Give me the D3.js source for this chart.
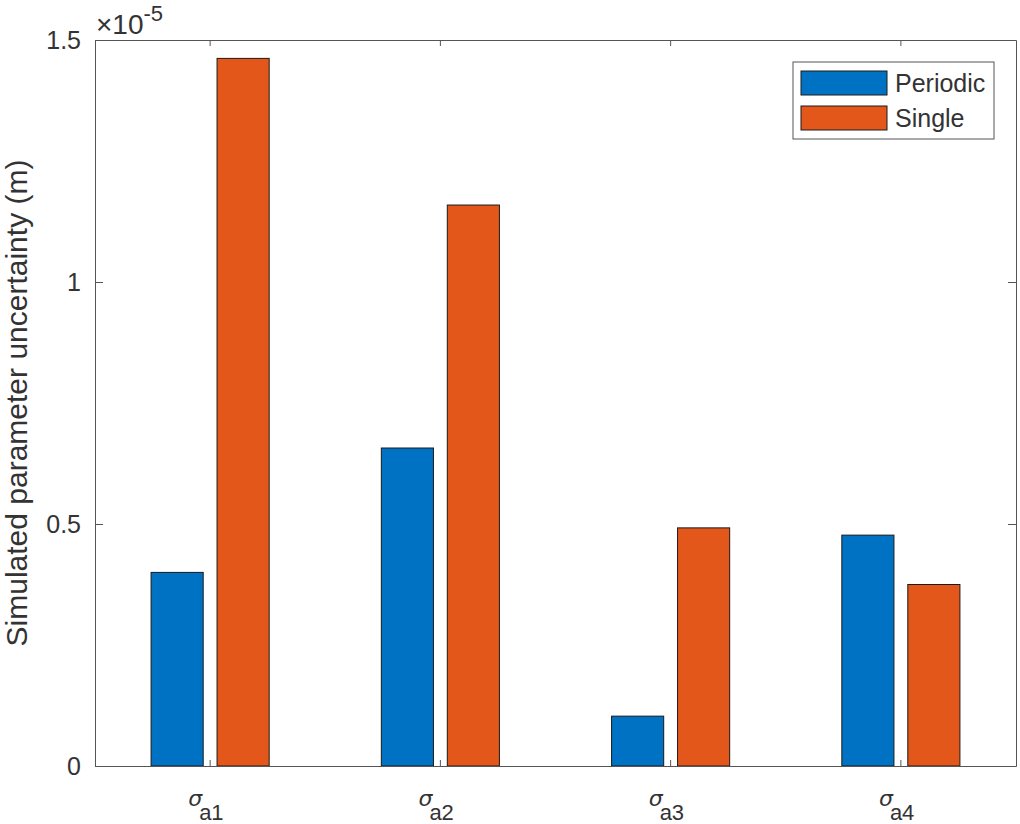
<!DOCTYPE html>
<html>
<head>
<meta charset="utf-8">
<script src="https://cdn.jsdelivr.net/npm/d3@7"></script>
<style>
  body { margin: 0; background: #fff; }
  text { font-family: "Liberation Sans", Arial, sans-serif; fill: #333; }
</style>
</head>
<body>
<svg id="chart" width="1020" height="824"></svg>
<script>
// chart data (values in units of 1e-5 m)
var categories = ["a1", "a2", "a3", "a4"];
var seriesNames = ["Periodic", "Single"];
var periodicValues = [0.40, 0.657, 0.103, 0.477];
var singleValues = [1.462, 1.159, 0.492, 0.375];
var yTicks = [0, 0.5, 1, 1.5];
var seriesColors = ["#0072C4", "#E3571B"];

var margin = {top: 40, right: 4, bottom: 58, left: 95},
    width = 1020 - margin.left - margin.right,
    height = 824 - margin.top - margin.bottom;

var svg = d3.select("#chart")
    .append("g")
    .attr("transform", "translate(" + margin.left + "," + margin.top + ")");

var rows = categories.map(function (c, i) {
    return {cat: c, values: [periodicValues[i], singleValues[i]]};
});

// scales
var x0 = d3.scaleBand().domain(categories).range([0, width]).padding(0);
var x1 = d3.scaleBand().domain(seriesNames).range([0, x0.bandwidth()])
    .paddingInner(0.21).paddingOuter(0.85);
var y = d3.scaleLinear().domain([0, 1.5]).range([height, 0]);

// bars
var groups = svg.selectAll(".grp")
    .data(rows)
    .enter()
    .append("g")
    .attr("class", "grp")
    .attr("transform", function (d) { return "translate(" + x0(d.cat) + ",0)"; });

groups.selectAll("rect")
    .data(function (d) {
        return d.values.map(function (v, k) { return {name: seriesNames[k], v: v, k: k}; });
    })
    .enter()
    .append("rect")
    .attr("x", function (d) { return x1(d.name); })
    .attr("y", function (d) { return y(d.v); })
    .attr("width", x1.bandwidth())
    .attr("height", function (d) { return y(0) - y(d.v); })
    .attr("fill", function (d) { return seriesColors[d.k]; })
    .attr("stroke", "#1a1a1a")
    .attr("stroke-width", 1);

// axes (MATLAB style, ticks inward, box on)
var axisColor = "#555";
var tickLen = 8;

var yLeft = svg.append("g").call(d3.axisLeft(y).tickValues(yTicks).tickSizeInner(-tickLen).tickSizeOuter(0).tickPadding(14)
    .tickFormat(function (d) { return d === 0 ? "0" : String(d); }));
var yRight = svg.append("g").attr("transform", "translate(" + width + ",0)")
    .call(d3.axisRight(y).tickValues(yTicks).tickSizeInner(-tickLen).tickSizeOuter(0).tickFormat(""));
var xBottom = svg.append("g").attr("transform", "translate(0," + height + ")")
    .call(d3.axisBottom(x0).tickSizeInner(-6).tickSizeOuter(0).tickFormat(""));
var xTop = svg.append("g")
    .call(d3.axisTop(x0).tickSizeInner(-6).tickSizeOuter(0).tickFormat(""));

[yLeft, yRight, xBottom, xTop].forEach(function (a) {
    a.selectAll("path").attr("stroke", axisColor);
    a.selectAll("line").attr("stroke", axisColor);
});
yLeft.selectAll("text").style("font-size", "25px").attr("fill", "#333");

// x tick labels: sigma with subscript
var xl = svg.append("g").attr("transform", "translate(0," + height + ")");
categories.forEach(function (c) {
    var cx = x0(c) + x0.bandwidth() / 2;
    var t = xl.append("text")
        .attr("x", cx - 22)
        .attr("y", 40)
        .attr("text-anchor", "start");
    t.append("tspan").text("σ")
        .style("font-family", "'DejaVu Sans', sans-serif")
        .style("font-style", "italic")
        .style("font-size", "22px");
    t.append("tspan").text(c)
        .attr("x", cx - 11)
        .attr("dy", 14)
        .style("font-size", "22px");
});

// exponent label
var ex = svg.append("text").attr("x", 1).attr("y", -6).style("font-size", "28px");
ex.append("tspan").text("×10");
ex.append("tspan").text("-5").attr("dy", -13).style("font-size", "22px");

// y axis label
svg.append("text")
    .attr("transform", "translate(" + (-68) + "," + (height / 2) + ") rotate(-90)")
    .attr("text-anchor", "middle")
    .style("font-size", "30px")
    .text("Simulated parameter uncertainty (m)");

// legend
var lg = svg.append("g").attr("transform", "translate(" + (793 - margin.left) + "," + (62 - margin.top) + ")");
lg.append("rect")
    .attr("width", 201).attr("height", 77)
    .attr("fill", "#fff").attr("stroke", axisColor).attr("stroke-width", 1);
seriesNames.forEach(function (s, k) {
    lg.append("rect")
        .attr("x", 8).attr("y", 9 + k * 35)
        .attr("width", 86).attr("height", 24)
        .attr("fill", seriesColors[k])
        .attr("stroke", "#1a1a1a");
    lg.append("text")
        .attr("x", 102).attr("y", 9 + k * 35 + 21)
        .style("font-size", "25px")
        .text(s);
});
</script>
</body>
</html>
